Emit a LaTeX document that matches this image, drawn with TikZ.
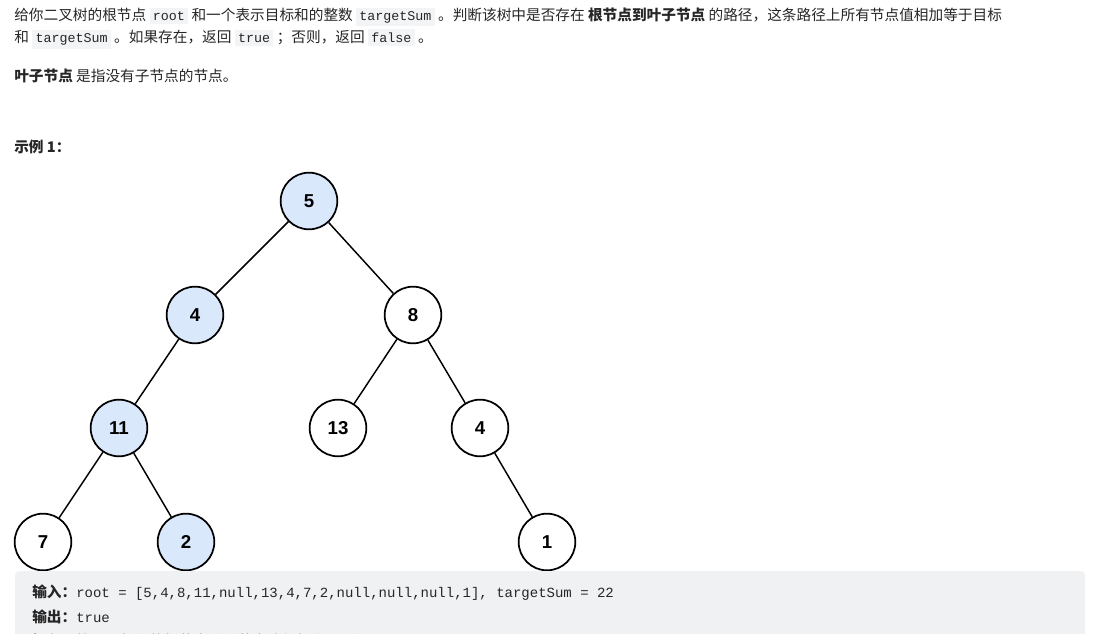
\documentclass[tikz,border=0pt]{standalone}
\usepackage{fontspec}
\setmainfont{Noto Sans CJK SC}
\setsansfont{Liberation Sans}
\setmonofont{Liberation Mono}
\usepackage{xcolor}
\definecolor{nodeblue}{RGB}{218, 232, 252}
\definecolor{codegray}{RGB}{243, 244, 245}
\definecolor{boxgray}{RGB}{240, 241, 243}
\definecolor{txt}{RGB}{38, 38, 38}
\newcommand{\inlinecode}[1]{{\setlength{\fboxsep}{2.5pt}\colorbox{codegray}{\ttfamily\fontsize{10}{11}\selectfont\color{txt}#1}}}
\tikzset{
  tn/.style = {circle, draw, line width=1.3pt, minimum size=42.5pt, inner sep=0pt,
               font=\sffamily\bfseries\fontsize{14}{16}\selectfont},
  hl/.style = {tn, fill=nodeblue},
  edge/.style = {line width=1.1pt},
  para/.style = {anchor=west, inner sep=0pt, text=txt, font=\fontsize{11}{12}\selectfont}
}

\begin{document}
\begin{tikzpicture}[x=0.75pt, y=-0.75pt]
	\useasboundingbox (0,0) rectangle (1093,634);
	
	% text above the tree
	\node [para] (line1) at (14,17) {给你二叉树的根节点 \inlinecode{root} 和一个表示目标和的整数 \inlinecode{targetSum} 。判断该树中是否存在 \textbf{根节点到叶子节点} 的路径，这条路径上所有节点值相加等于目标};
	\node [para] (line2) at (14,39) {和 \inlinecode{targetSum} 。如果存在，返回 \inlinecode{true} ；否则，返回 \inlinecode{false} 。};
	\node [para] (leaf) at (14,76) {\textbf{叶子节点} 是指没有子节点的节点。};
	\node [para] (ex) at (14,147) {\textbf{示例 1：}};
	
	% tree
	\node [hl] (n5) at (309,201) {5};
	\node [hl] (n4) at (195,315) {4};
	\node [tn] (n8) at (413,315) {8};
	\node [hl] (n11) at (119,428) {11};
	\node [tn] (n13) at (338,428) {13};
	\node [tn] (n4b) at (480,428) {4};
	\node [tn] (n7) at (43,542) {7};
	\node [hl] (n2) at (186,542) {2};
	\node [tn] (n1) at (547,542) {1};
	
	\draw [edge] (n5) -- (n4);
	\draw [edge] (n5) -- (n8);
	\draw [edge] (n4) -- (n11);
	\draw [edge] (n8) -- (n13);
	\draw [edge] (n8) -- (n4b);
	\draw [edge] (n11) -- (n7);
	\draw [edge] (n11) -- (n2);
	\draw [edge] (n4b) -- (n1);
	
	% example box
	\fill [boxgray, rounded corners=3pt] (15,571) rectangle (1085,660);
	\node [para] (in) at (32,593) {\textbf{输入：}{\ttfamily\fontsize{10.5}{12}\selectfont root = [5,4,8,11,null,13,4,7,2,null,null,null,1], targetSum = 22}};
	\node [para] (out) at (32,617) {\textbf{输出：}{\ttfamily\fontsize{10.5}{12}\selectfont true}};
	\node [para] (expl) at (32,641) {\textbf{解释：}等于目标和的根节点到叶节点路径如上图所示。};
\end{tikzpicture}
\end{document}
